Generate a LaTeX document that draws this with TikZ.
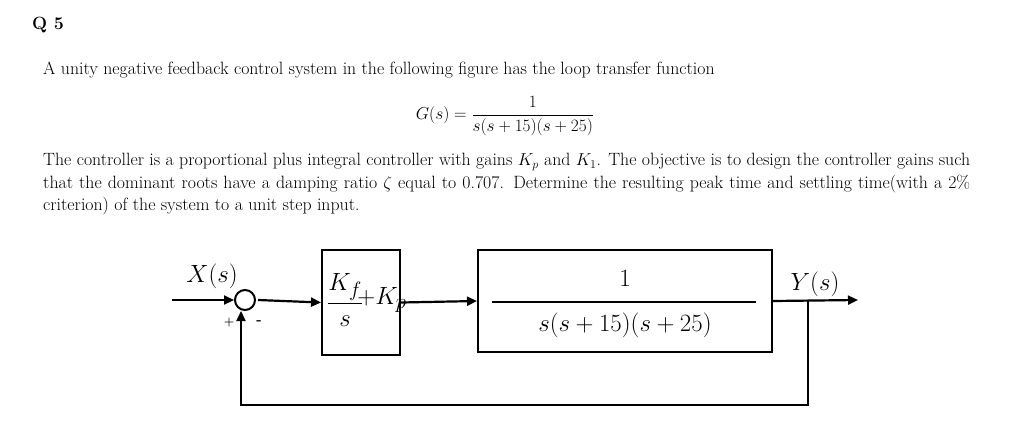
\documentclass[tikz,border=0pt]{standalone}
\usepackage{amsmath}
\usetikzlibrary{arrows.meta}
\begin{document}
\begin{tikzpicture}[x=1pt,y=-1pt,
  blk/.style={draw,line width=2pt},
  wire/.style={line width=2.2pt},
  arr/.style={wire,-{Triangle[length=10pt,width=9pt]}},
  txt/.style={inner sep=0pt,font=\fontsize{17.8}{22.5}\selectfont},
  big/.style={inner sep=0pt,font=\fontsize{30}{34}\selectfont}]
\useasboundingbox (0,0) rectangle (1024,426);
\node[txt,anchor=base west,font=\fontsize{17.8}{22}\selectfont\bfseries] (q) at (32,29) {Q 5};
\node[txt,anchor=base west] (l1) at (43,74) {A unity negative feedback control system in the following figure has the loop transfer function};
\node[txt] (eq) at (505,116) {$G(s)=\dfrac{1}{s(s+15)(s+25)}$};
\node[txt,anchor=north west,text width=927pt,align=justify] (p2) at (43,153) {The controller is a proportional plus integral controller with gains $K_p$ and $K_1$. The objective is to design the controller gains such that the dominant roots have a damping ratio $\zeta$ equal to 0.707. Determine the resulting peak time and settling time(with a 2\% criterion) of the system to a unit step input.};
% diagram
\node[draw,circle,line width=2pt,minimum size=20pt,inner sep=0pt] (sum) at (245,300) {};
\coordinate (in) at (172,300);
\node[big,font=\fontsize{26}{30}\selectfont] (xs) at (212,276) {$X(s)$};
\node[inner sep=0pt,font=\bfseries\large] (pl) at (229,322) {+};
\node[inner sep=0pt,font=\bfseries\Large] (mi) at (259,323) {-};
\node[blk,minimum width=78pt,minimum height=105pt] (b1) at (361,302.5) {};
\node[big] (kf) at (345,300) {$\dfrac{K_f}{s}$};
\node[big] (kp) at (382,300) {$+K_p$};
\node[blk,minimum width=294pt,minimum height=102pt] (b2) at (625,301) {};
\node[big] (one) at (625,278) {$1$};
\draw[line width=1.5pt] (492,302) -- (756,302);
\node[big] (den) at (625,325) {$s(s+15)(s+25)$};
\node[big,font=\fontsize{26}{30}\selectfont] (ys) at (815,284) {$Y(s)$};
\coordinate (out) at (858,300);
\coordinate (tap) at (808,300);
\coordinate (c1) at (808,405);
\coordinate (c2) at (241,405);
\draw[arr] (in) -- (sum.west);
\draw[arr] (sum.east) ++(2,0) -- (b1.west);
\draw[arr] (b1.east) -- (b2.west);
\draw[arr] (b2.east) -- (out);
\draw[arr] (tap) -- (c1) -- (c2) -- (sum.south -| c2);
\end{tikzpicture}
\end{document}
